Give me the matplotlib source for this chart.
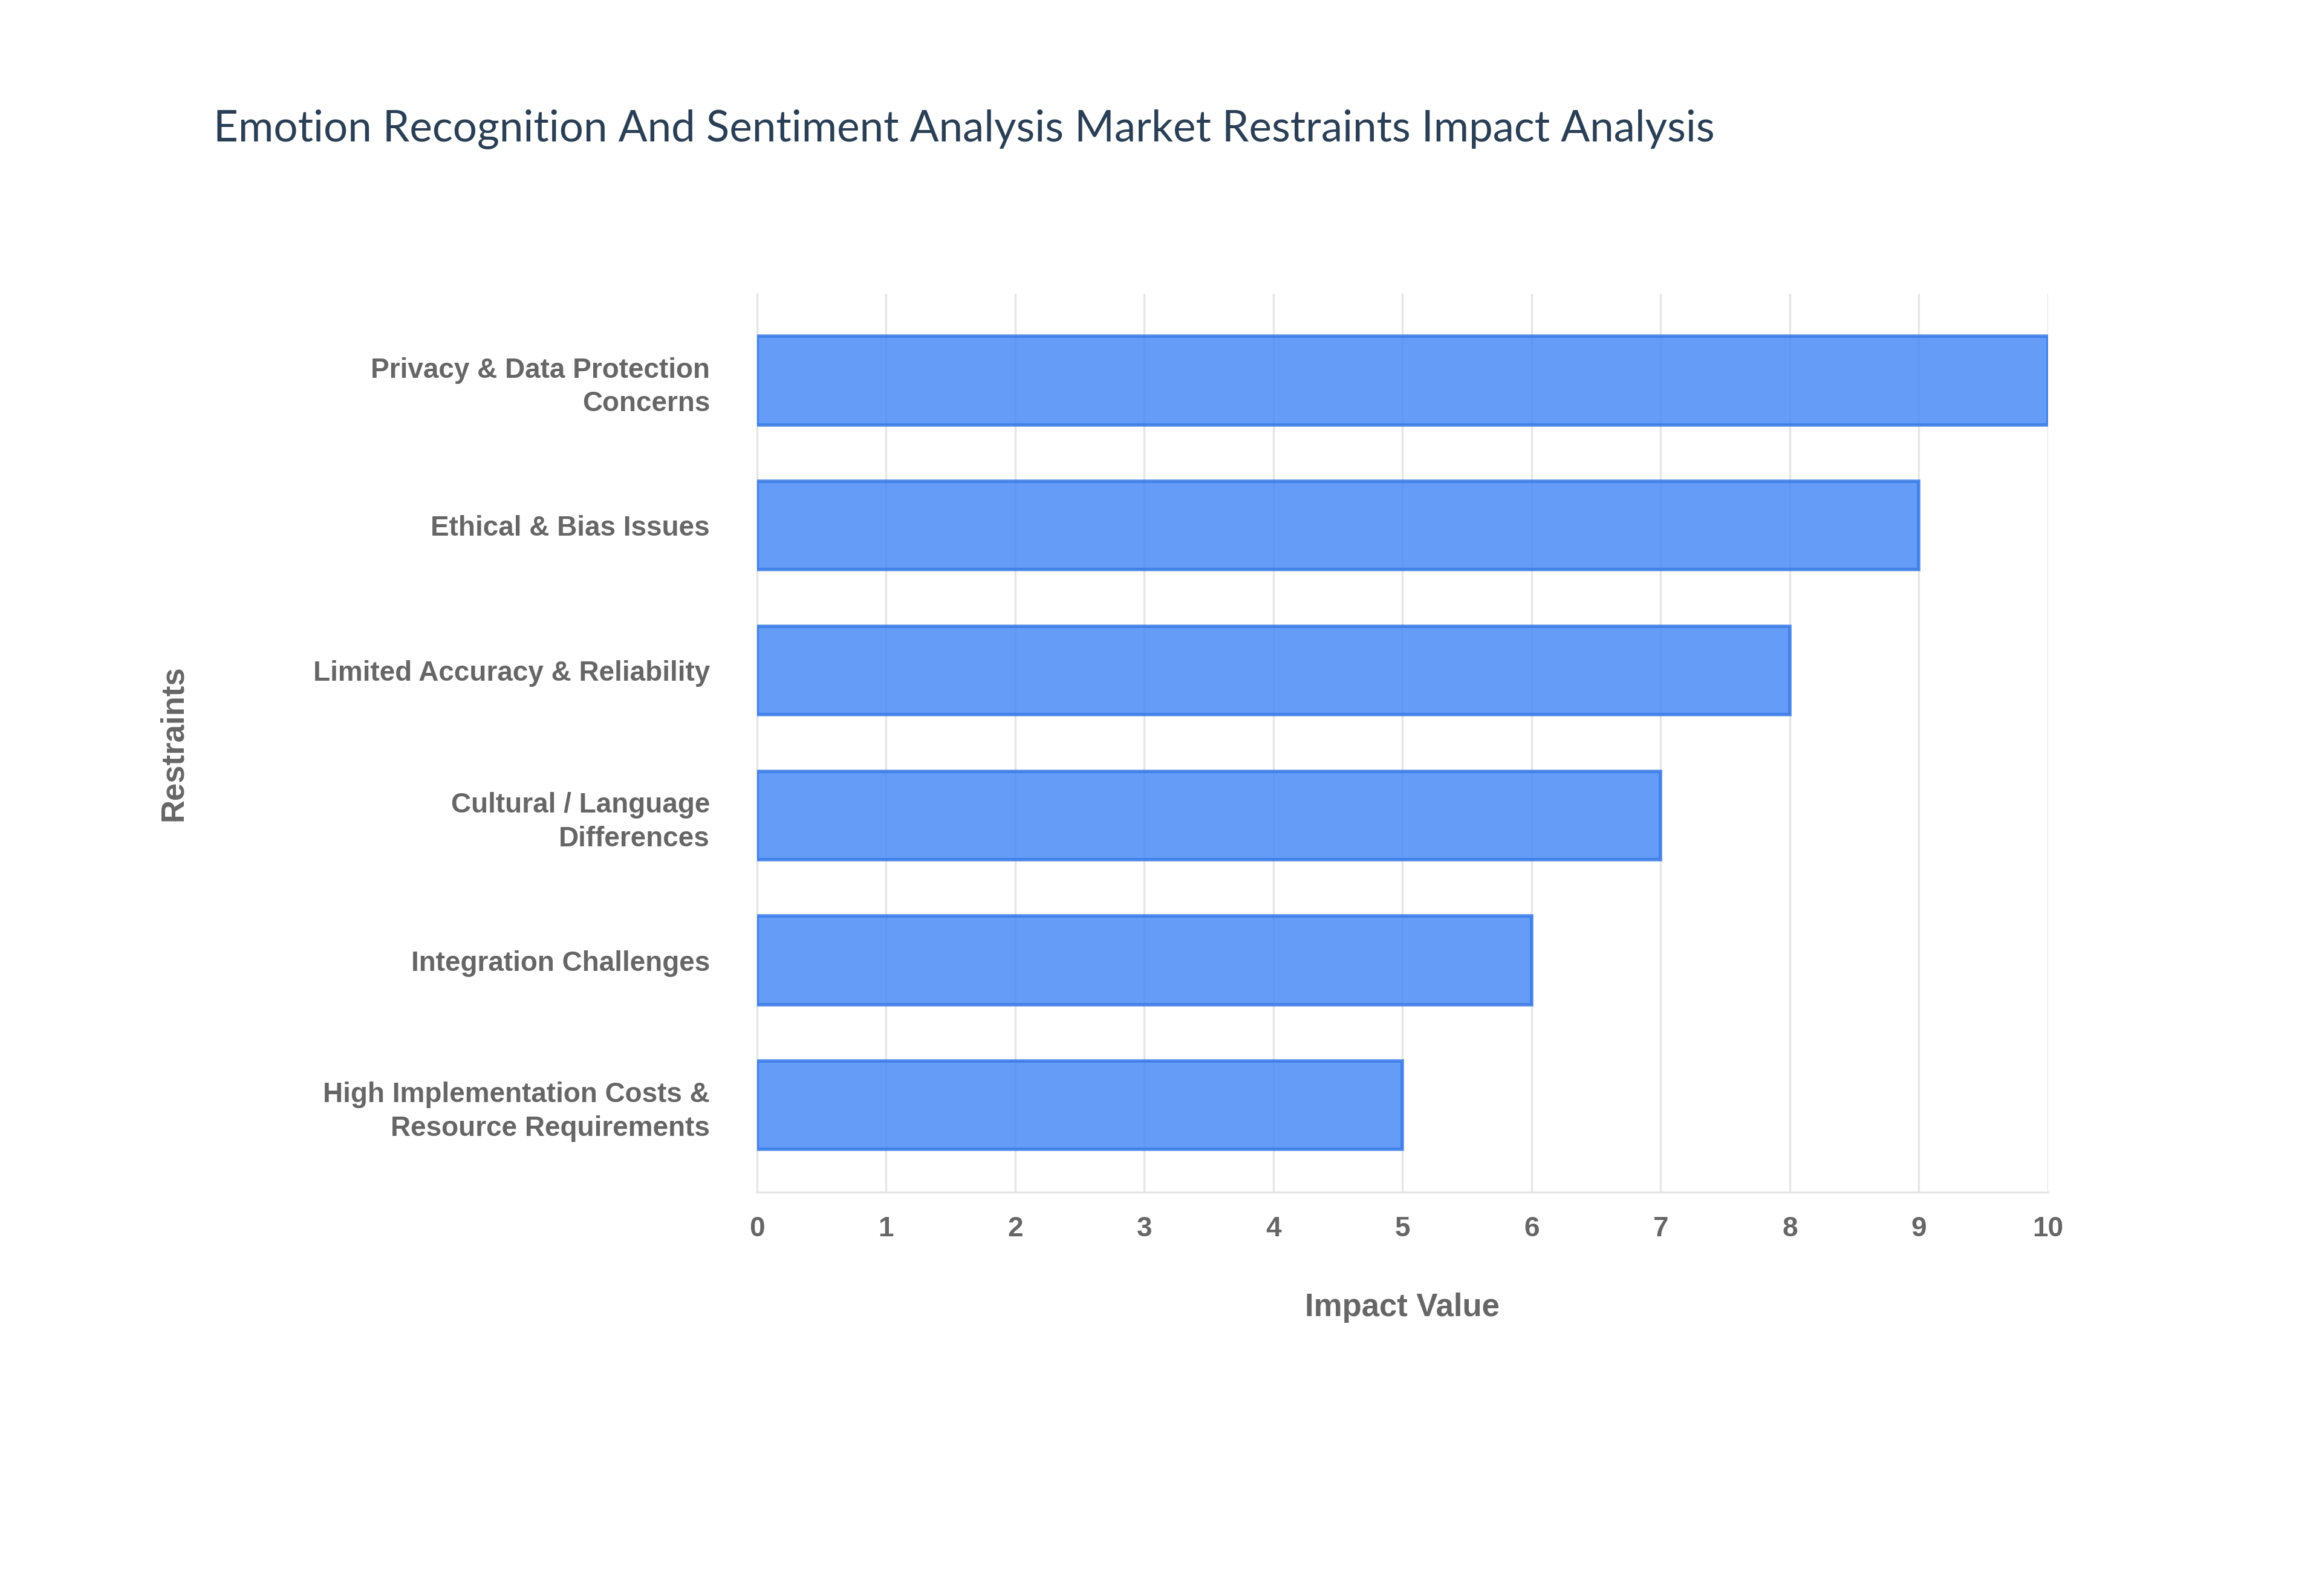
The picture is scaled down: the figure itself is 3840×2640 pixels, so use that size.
import matplotlib
matplotlib.use("Agg")
import matplotlib.pyplot as plt

categories = ["Privacy & Data Protection\nConcerns", "Ethical & Bias Issues",
              "Limited Accuracy & Reliability", "Cultural / Language\nDifferences",
              "Integration Challenges", "High Implementation Costs &\nResource Requirements"]
values = [10, 9, 8, 7, 6, 5]
xticks = list(range(0, 11))

fig = plt.figure(figsize=(19.2, 13.2), dpi=200)
ax = fig.add_axes([0.326, 0.253, 0.556, 0.563])
y = list(range(len(categories)))[::-1]
ax.barh(y, values, height=0.61, color="#4f8ef7", alpha=0.88, edgecolor="#3a7be6", linewidth=2, zorder=3)
ax.set_xlim(0, 10)
ax.set_ylim(-0.6, 5.6)
ax.set_yticks(y)
ax.set_yticklabels(categories, fontsize=16.5, fontweight="bold", color="#666666", family="Liberation Sans", linespacing=1.35)
ax.set_xticks(xticks)
ax.set_xticklabels([str(t) for t in xticks], fontsize=16.5, fontweight="bold", color="#666666", family="Liberation Sans")
ax.tick_params(length=0, pad=14)
ax.tick_params(axis="y", pad=28)
ax.grid(axis="x", color="#e6e6e6", linewidth=1.2, zorder=0)
for s in ["top", "right"]:
    ax.spines[s].set_visible(False)
for s in ["left", "bottom"]:
    ax.spines[s].set_color("#e6e6e6")
    ax.spines[s].set_linewidth(1.2)
ax.set_xlabel("Impact Value", fontsize=19, fontweight="bold", color="#666666", family="Liberation Sans", labelpad=30)
ax.set_ylabel("Restraints", fontsize=19, fontweight="bold", color="#666666", family="Liberation Sans")
ax.yaxis.set_label_coords(-0.44, 0.5)
fig.text(0.092, 0.919, "Emotion Recognition And Sentiment Analysis Market Restraints Impact Analysis",
         fontsize=25.5, color="#2a3f55", va="center", ha="left", family="Lato")
fig.savefig("out.png", dpi=200, facecolor="white")
